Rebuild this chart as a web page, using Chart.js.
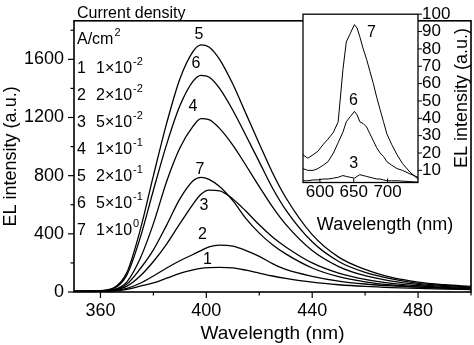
<!DOCTYPE html>
<html>
<head>
<meta charset="utf-8">
<script src="https://cdn.jsdelivr.net/npm/chart.js@4.4.1/dist/chart.umd.min.js"></script>
<style>
  body { margin: 0; background: #fff; }
  #wrap { position: relative; width: 474px; height: 345px; }
  #mainChart { position: absolute; left: 0; top: 0; }
  #insetChart { position: absolute; left: 280px; top: 0; }
</style>
</head>
<body>
<div id="wrap">
  <canvas id="mainChart" width="474" height="345"></canvas>
  <canvas id="insetChart" width="194" height="240"></canvas>
</div>
<script>
const FONT = "'Liberation Sans', Arial, sans-serif";

// main EL spectra (nm, a.u.)
const wavelengths = [350, 355, 360, 365, 370, 375, 380, 385, 390, 395, 398, 401, 405, 410, 415, 420, 425, 430, 440, 450, 460, 470, 480, 490, 500];
const curve1 = [2, 3, 4, 7, 18, 40, 62, 95, 128, 152, 163, 168, 170, 166, 150, 130, 110, 94, 68, 50, 38, 30, 25, 20, 17];
const curve2 = [3, 4, 5, 9, 25, 60, 110, 165, 215, 258, 285, 310, 322, 315, 285, 245, 195, 155, 108, 75, 55, 42, 33, 26, 21];
const curve3 = [4, 5, 6, 12, 40, 110, 210, 330, 470, 605, 672, 700, 696, 640, 555, 462, 378, 310, 200, 130, 87, 60, 43, 32, 24];
const curve4 = [4, 5, 7, 16, 70, 230, 470, 760, 990, 1140, 1192, 1185, 1125, 1010, 870, 725, 585, 465, 285, 175, 112, 75, 52, 38, 28];
const curve5 = [5, 6, 10, 28, 135, 425, 800, 1160, 1465, 1655, 1700, 1685, 1600, 1430, 1225, 1020, 820, 650, 395, 240, 155, 100, 68, 50, 38];
const curve6 = [5, 6, 9, 24, 118, 372, 700, 1015, 1280, 1450, 1490, 1478, 1400, 1250, 1075, 895, 715, 565, 345, 210, 135, 90, 60, 45, 33];
const curve7 = [4, 5, 7, 14, 55, 160, 290, 460, 640, 765, 788, 775, 725, 628, 505, 405, 325, 262, 165, 105, 70, 48, 35, 26, 20];

const curveNames = ['1', '2', '3', '4', '5', '6', '7'];
const densityMantissa = ['1', '2', '5', '1', '2', '5', '1'];
const densityExponent = ['-2', '-2', '-2', '-1', '-1', '-1', '0'];

const xTicksMain = [360, 400, 440, 480];
const xMinorMain = [380, 420, 460, 500];
const yTicksMain = [0, 400, 800, 1200, 1600];
const yMinorMain = [200, 600, 1000, 1400, 1800];

// inset: red-region emission
const insetWavelengths = [575, 582, 590, 597, 605, 612, 620, 627, 634, 639, 645, 651, 655, 659, 664, 669, 674, 679, 684, 689, 694, 699, 706, 714, 722, 733, 745];
const inset7 = [19, 17, 19, 21, 25, 28, 32, 38, 68, 84, 89, 94, 92, 87, 80, 74, 67, 60, 52, 45, 38, 31, 25, 19, 14, 9, 5];
const inset6 = [11, 10, 10, 11, 13, 15, 20, 26, 32, 38, 41, 44, 42, 38, 37, 35, 31, 27, 23, 20, 18, 15, 13, 11, 10, 8, 6];
const inset3 = [4, 4, 4.5, 4.5, 5, 5, 5.5, 6, 7, 6.5, 6, 5.5, 6.5, 7.5, 7, 6.5, 6, 5.5, 5, 5, 4.5, 4, 4, 4, 3.8, 3.5, 3.2];
const insetNames = ['7', '6', '3'];
const insetXTicks = [600, 650, 700];
const insetYTicks = [10, 20, 30, 40, 50, 60, 70, 80, 90, 100];

function toPoints(xs, ys) {
    return ys.map((y, i) => ({ x: xs[i], y: y }));
}

function peakOf(ys) {
    return ys.indexOf(Math.max(...ys));
}

const mainSeries = [curve1, curve2, curve3, curve4, curve5, curve6, curve7];
// label offsets from each peak, in px
const mainLabelShift = [[-12, -8], [-17, -11], [-5, 15], [-8, -12], [-2, -10], [-5, -12], [-1, -8]];

function drawTicks(ctx, scale, values, len, from, dir) {
    values.forEach(v => {
        const p = scale.getPixelForValue(v);
        ctx.beginPath();
        if (scale.isHorizontal()) {
            ctx.moveTo(p, from);
            ctx.lineTo(p, from + dir * len);
        } else {
            ctx.moveTo(from, p);
            ctx.lineTo(from + dir * len, p);
        }
        ctx.stroke();
    });
}

const mainDecor = {
    id: 'mainDecor',
    afterDraw(chart) {
        const { ctx, chartArea: a, scales } = chart;
        ctx.save();
        ctx.strokeStyle = '#000';
        ctx.lineWidth = 1.6;
        ctx.strokeRect(a.left, a.top, a.right - a.left, a.bottom - a.top);
        ctx.lineWidth = 1.2;
        drawTicks(ctx, scales.x, xTicksMain, 6, a.bottom, 1);
        drawTicks(ctx, scales.x, xMinorMain, 3.5, a.bottom, 1);
        drawTicks(ctx, scales.y, yTicksMain, 6, a.left, -1);
        drawTicks(ctx, scales.y, yMinorMain, 3.5, a.left, -1);

        // curve numbers
        ctx.fillStyle = '#000';
        ctx.font = '16px ' + FONT;
        ctx.textAlign = 'center';
        ctx.textBaseline = 'middle';
        mainSeries.forEach((ys, k) => {
            const i = peakOf(ys);
            const px = scales.x.getPixelForValue(wavelengths[i]);
            const py = scales.y.getPixelForValue(ys[i]);
            ctx.fillText(curveNames[k], px + mainLabelShift[k][0], py + mainLabelShift[k][1]);
        });

        // legend block
        ctx.textAlign = 'left';
        ctx.textBaseline = 'alphabetic';
        ctx.font = '16px ' + FONT;
        ctx.fillText('Current density', 77, 17.5);
        ctx.fillText('A/cm', 77, 44);
        const w = ctx.measureText('A/cm').width;
        ctx.font = '11px ' + FONT;
        ctx.fillText('2', 77 + w + 1, 36);
        curveNames.forEach((n, k) => {
            const base = 72.5 + k * 27;
            ctx.font = '16px ' + FONT;
            ctx.fillText(n, 77, base);
            const txt = densityMantissa[k] + '\u00d710';
            ctx.fillText(txt, 96, base);
            const tw = ctx.measureText(txt).width;
            ctx.font = '11px ' + FONT;
            ctx.fillText(densityExponent[k], 96 + tw + 1, base - 8);
        });
        ctx.restore();
    }
};

new Chart(document.getElementById('mainChart'), {
    type: 'line',
    data: {
        datasets: mainSeries.map((ys, k) => ({
            label: curveNames[k],
            data: toPoints(wavelengths, ys),
            borderColor: '#000',
            borderWidth: 1.3,
            pointRadius: 0,
            fill: false,
            cubicInterpolationMode: 'monotone'
        }))
    },
    options: {
        responsive: false,
        animation: false,
        devicePixelRatio: 1,
        layout: { padding: { left: 0, top: 2, right: 3, bottom: 0 } },
        plugins: { legend: { display: false }, tooltip: { enabled: false } },
        scales: {
            x: {
                type: 'linear', min: 350, max: 500,
                afterBuildTicks: s => { s.ticks = xTicksMain.map(v => ({ value: v })); },
                afterFit: s => { s.height = 53; },
                grid: { display: false, drawTicks: false },
                border: { display: false },
                ticks: { color: '#000', font: { size: 18, family: FONT }, padding: 8, maxRotation: 0, autoSkip: false, callback: v => String(v) },
                title: { display: true, text: 'Wavelength (nm)', color: '#000', font: { size: 19, family: FONT }, padding: { top: 0, bottom: 0 } }
            },
            y: {
                type: 'linear', min: 0, max: 1865,
                afterBuildTicks: s => { s.ticks = yTicksMain.map(v => ({ value: v })); },
                afterFit: s => { s.width = 74; },
                grid: { display: false, drawTicks: false },
                border: { display: false },
                ticks: { color: '#000', font: { size: 18, family: FONT }, padding: 10, autoSkip: false, callback: v => String(v) },
                title: { display: true, text: 'EL intensity (a.u.)', color: '#000', font: { size: 18, family: FONT }, padding: { top: 0, bottom: 0 } }
            }
        }
    },
    plugins: [mainDecor]
});

const insetSeries = [inset7, inset6, inset3];
const insetLabelShift = [[17, 8], [-1, -11], [-6, -11]];

const insetDecor = {
    id: 'insetDecor',
    beforeDatasetsDraw(chart) {
        const { ctx, chartArea: a } = chart;
        ctx.save();
        ctx.fillStyle = '#fff';
        ctx.fillRect(a.left, a.top, a.right - a.left, a.bottom - a.top);
        ctx.restore();
    },
    afterDraw(chart) {
        const { ctx, chartArea: a, scales } = chart;
        ctx.save();
        ctx.strokeStyle = '#000';
        ctx.lineWidth = 1.3;
        ctx.strokeRect(a.left, a.top, a.right - a.left, a.bottom - a.top);
        ctx.lineWidth = 1;
        drawTicks(ctx, scales.x, insetXTicks, 4, a.bottom, -1);
        drawTicks(ctx, scales.y, insetYTicks, 4, a.right, 1);

        ctx.fillStyle = '#000';
        ctx.font = '16px ' + FONT;
        ctx.textAlign = 'center';
        ctx.textBaseline = 'middle';
        insetSeries.forEach((ys, k) => {
            const i = peakOf(ys);
            const px = scales.x.getPixelForValue(insetWavelengths[i]);
            const py = scales.y.getPixelForValue(ys[i]);
            ctx.fillText(insetNames[k], px + insetLabelShift[k][0], py + insetLabelShift[k][1]);
        });

        ctx.font = '18px ' + FONT;
        ctx.fillText('Wavelength (nm)', 105, 225);
        ctx.translate(182, 98);
        ctx.rotate(-Math.PI / 2);
        ctx.fillText('EL intensity (a.u.)', 0, 0);
        ctx.restore();
    }
};

new Chart(document.getElementById('insetChart'), {
    type: 'line',
    data: {
        datasets: insetSeries.map((ys, k) => ({
            label: insetNames[k],
            data: toPoints(insetWavelengths, ys),
            borderColor: '#000',
            borderWidth: 1,
            pointRadius: 0,
            fill: false,
            tension: 0
        }))
    },
    options: {
        responsive: false,
        animation: false,
        devicePixelRatio: 1,
        layout: { padding: { left: 23, top: 13.5, right: 0, bottom: 0 } },
        plugins: { legend: { display: false }, tooltip: { enabled: false } },
        scales: {
            x: {
                type: 'linear', min: 575, max: 745,
                afterBuildTicks: s => { s.ticks = insetXTicks.map(v => ({ value: v })); },
                afterFit: s => { s.height = 57.5; },
                grid: { display: false, drawTicks: false },
                border: { display: false },
                ticks: { color: '#000', font: { size: 17, family: FONT }, padding: 0, maxRotation: 0, autoSkip: false }
            },
            y: {
                position: 'right',
                type: 'linear', min: 3, max: 100,
                afterBuildTicks: s => { s.ticks = insetYTicks.map(v => ({ value: v })); },
                afterFit: s => { s.width = 56; },
                grid: { display: false, drawTicks: false },
                border: { display: false },
                ticks: { color: '#000', font: { size: 17, family: FONT }, padding: 4, autoSkip: false }
            }
        }
    },
    plugins: [insetDecor]
});
</script>
</body>
</html>
